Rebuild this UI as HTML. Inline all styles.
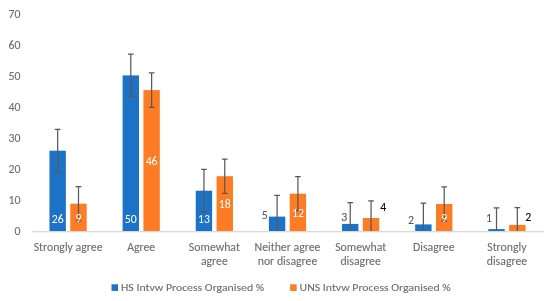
<!DOCTYPE html><html><head><meta charset="utf-8"><style>html,body{margin:0;padding:0;background:#fff;width:550px;height:301px;overflow:hidden}svg{display:block;filter:blur(0.3px)}text{font-family:Carlito, "Liberation Sans", sans-serif;font-size:11.8px;stroke:currentColor;stroke-width:0.1px}</style></head><body>
<svg width="550" height="301" viewBox="0 0 550 301">
<rect width="550" height="301" fill="#fff"/>
<text textLength="5.98" lengthAdjust="spacingAndGlyphs" x="20.5" y="235.30" text-anchor="end" fill="#6E6E6E" color="#6E6E6E">0</text>
<text textLength="11.97" lengthAdjust="spacingAndGlyphs" x="20.5" y="204.31" text-anchor="end" fill="#6E6E6E" color="#6E6E6E">10</text>
<text textLength="11.97" lengthAdjust="spacingAndGlyphs" x="20.5" y="173.33" text-anchor="end" fill="#6E6E6E" color="#6E6E6E">20</text>
<text textLength="11.97" lengthAdjust="spacingAndGlyphs" x="20.5" y="142.34" text-anchor="end" fill="#6E6E6E" color="#6E6E6E">30</text>
<text textLength="11.97" lengthAdjust="spacingAndGlyphs" x="20.5" y="111.36" text-anchor="end" fill="#6E6E6E" color="#6E6E6E">40</text>
<text textLength="11.97" lengthAdjust="spacingAndGlyphs" x="20.5" y="80.37" text-anchor="end" fill="#6E6E6E" color="#6E6E6E">50</text>
<text textLength="11.97" lengthAdjust="spacingAndGlyphs" x="20.5" y="49.38" text-anchor="end" fill="#6E6E6E" color="#6E6E6E">60</text>
<text textLength="11.97" lengthAdjust="spacingAndGlyphs" x="20.5" y="18.40" text-anchor="end" fill="#6E6E6E" color="#6E6E6E">70</text>
<rect x="32.0" y="231" width="512.0" height="1.3" fill="#D9D9D9"/>
<defs><clipPath id="pa"><rect x="31.5" y="0" width="512.0" height="231.0"/></clipPath></defs>
<rect x="49.46" y="150.7" width="16.4" height="80.30" fill="#1B72C7"/>
<rect x="70.29" y="203.7" width="16.4" height="27.30" fill="#FD7C24"/>
<rect x="122.60" y="75.4" width="16.4" height="155.60" fill="#1B72C7"/>
<rect x="143.43" y="90.1" width="16.4" height="140.90" fill="#FD7C24"/>
<rect x="195.74" y="190.7" width="16.4" height="40.30" fill="#1B72C7"/>
<rect x="216.57" y="176.2" width="16.4" height="54.80" fill="#FD7C24"/>
<rect x="268.89" y="216.6" width="16.4" height="14.40" fill="#1B72C7"/>
<rect x="289.71" y="193.7" width="16.4" height="37.30" fill="#FD7C24"/>
<rect x="342.03" y="223.9" width="16.4" height="7.10" fill="#1B72C7"/>
<rect x="362.86" y="218.0" width="16.4" height="13.00" fill="#FD7C24"/>
<rect x="415.17" y="224.4" width="16.4" height="6.60" fill="#1B72C7"/>
<rect x="436.00" y="204.0" width="16.4" height="27.00" fill="#FD7C24"/>
<rect x="488.31" y="229.1" width="16.4" height="1.90" fill="#1B72C7"/>
<rect x="509.14" y="224.9" width="16.4" height="6.10" fill="#FD7C24"/>
<g clip-path="url(#pa)" stroke="#595959" stroke-width="1.25" fill="none">
<path d="M57.66 129.45V171.95M54.81 129.45H60.51M54.81 171.95H60.51"/>
<path d="M78.49 186.50V220.90M75.64 186.50H81.34M75.64 220.90H81.34"/>
<path d="M130.80 54.15V96.65M127.95 54.15H133.65M127.95 96.65H133.65"/>
<path d="M151.63 72.90V107.30M148.78 72.90H154.48M148.78 107.30H154.48"/>
<path d="M203.94 169.45V211.95M201.09 169.45H206.79M201.09 211.95H206.79"/>
<path d="M224.77 159.00V193.40M221.92 159.00H227.62M221.92 193.40H227.62"/>
<path d="M277.09 195.35V237.85M274.24 195.35H279.94M274.24 237.85H279.94"/>
<path d="M297.91 176.50V210.90M295.06 176.50H300.76M295.06 210.90H300.76"/>
<path d="M350.23 202.65V245.15M347.38 202.65H353.08M347.38 245.15H353.08"/>
<path d="M371.06 200.80V235.20M368.21 200.80H373.91M368.21 235.20H373.91"/>
<path d="M423.37 203.15V245.65M420.52 203.15H426.22M420.52 245.65H426.22"/>
<path d="M444.20 186.80V221.20M441.35 186.80H447.05M441.35 221.20H447.05"/>
<path d="M496.51 207.85V250.35M493.66 207.85H499.36M493.66 250.35H499.36"/>
<path d="M517.34 207.70V242.10M514.49 207.70H520.19M514.49 242.10H520.19"/>
</g>
<text textLength="11.97" lengthAdjust="spacingAndGlyphs" x="57.66" y="222.60" text-anchor="middle" fill="#fff" color="#fff" style="stroke:none">26</text>
<text textLength="11.97" lengthAdjust="spacingAndGlyphs" x="130.80" y="222.60" text-anchor="middle" fill="#fff" color="#fff" style="stroke:none">50</text>
<text textLength="11.97" lengthAdjust="spacingAndGlyphs" x="203.94" y="222.60" text-anchor="middle" fill="#fff" color="#fff" style="stroke:none">13</text>
<text textLength="5.98" lengthAdjust="spacingAndGlyphs" x="78.49" y="222.40" text-anchor="middle" fill="#fff" color="#fff" style="stroke:none">9</text>
<text textLength="11.97" lengthAdjust="spacingAndGlyphs" x="151.63" y="165.20" text-anchor="middle" fill="#fff" color="#fff" style="stroke:none">46</text>
<text textLength="11.97" lengthAdjust="spacingAndGlyphs" x="224.77" y="208.10" text-anchor="middle" fill="#fff" color="#fff" style="stroke:none">18</text>
<text textLength="11.97" lengthAdjust="spacingAndGlyphs" x="297.91" y="217.10" text-anchor="middle" fill="#fff" color="#fff" style="stroke:none">12</text>
<text textLength="5.98" lengthAdjust="spacingAndGlyphs" x="444.20" y="222.10" text-anchor="middle" fill="#fff" color="#fff" style="stroke:none">9</text>
<text textLength="5.98" lengthAdjust="spacingAndGlyphs" x="264.70" y="218.60" text-anchor="middle" fill="#5A5A5A" color="#5A5A5A">5</text>
<text textLength="5.98" lengthAdjust="spacingAndGlyphs" x="344.30" y="220.80" text-anchor="middle" fill="#5A5A5A" color="#5A5A5A">3</text>
<text textLength="5.98" lengthAdjust="spacingAndGlyphs" x="411.00" y="223.90" text-anchor="middle" fill="#5A5A5A" color="#5A5A5A">2</text>
<text textLength="5.98" lengthAdjust="spacingAndGlyphs" x="489.00" y="221.50" text-anchor="middle" fill="#5A5A5A" color="#5A5A5A">1</text>
<text textLength="5.98" lengthAdjust="spacingAndGlyphs" x="383.30" y="211.00" text-anchor="middle" fill="#000" color="#000">4</text>
<text textLength="5.98" lengthAdjust="spacingAndGlyphs" x="528.30" y="220.60" text-anchor="middle" fill="#000" color="#000">2</text>
<text textLength="68.89" lengthAdjust="spacingAndGlyphs" x="68.07" y="250.70" text-anchor="middle" fill="#6E6E6E" color="#6E6E6E">Strongly agree</text>
<text textLength="28.08" lengthAdjust="spacingAndGlyphs" x="141.21" y="250.70" text-anchor="middle" fill="#6E6E6E" color="#6E6E6E">Agree</text>
<text textLength="51.02" lengthAdjust="spacingAndGlyphs" x="214.36" y="250.70" text-anchor="middle" fill="#6E6E6E" color="#6E6E6E">Somewhat</text>
<text textLength="26.91" lengthAdjust="spacingAndGlyphs" x="214.36" y="265.10" text-anchor="middle" fill="#6E6E6E" color="#6E6E6E">agree</text>
<text textLength="65.91" lengthAdjust="spacingAndGlyphs" x="287.50" y="250.70" text-anchor="middle" fill="#6E6E6E" color="#6E6E6E">Neither agree</text>
<text textLength="59.62" lengthAdjust="spacingAndGlyphs" x="287.50" y="265.10" text-anchor="middle" fill="#6E6E6E" color="#6E6E6E">nor disagree</text>
<text textLength="51.02" lengthAdjust="spacingAndGlyphs" x="360.64" y="250.70" text-anchor="middle" fill="#6E6E6E" color="#6E6E6E">Somewhat</text>
<text textLength="40.42" lengthAdjust="spacingAndGlyphs" x="360.64" y="265.10" text-anchor="middle" fill="#6E6E6E" color="#6E6E6E">disagree</text>
<text textLength="41.48" lengthAdjust="spacingAndGlyphs" x="433.79" y="250.70" text-anchor="middle" fill="#6E6E6E" color="#6E6E6E">Disagree</text>
<text textLength="39.33" lengthAdjust="spacingAndGlyphs" x="506.93" y="250.70" text-anchor="middle" fill="#6E6E6E" color="#6E6E6E">Strongly</text>
<text textLength="40.42" lengthAdjust="spacingAndGlyphs" x="506.93" y="265.10" text-anchor="middle" fill="#6E6E6E" color="#6E6E6E">disagree</text>
<rect x="111.5" y="284.3" width="6.6" height="6.6" fill="#1B72C7"/>
<text textLength="129.89" lengthAdjust="spacingAndGlyphs" transform="translate(121 290.75) scale(1.1028 1)" style="font-size:10.7px" fill="#6E6E6E" color="#6E6E6E">HS Intvw Process Organised %</text>
<rect x="290.1" y="284.3" width="6.6" height="6.6" fill="#FD7C24"/>
<text textLength="136.99" lengthAdjust="spacingAndGlyphs" transform="translate(299.6 290.75) scale(1.1028 1)" style="font-size:10.7px" fill="#6E6E6E" color="#6E6E6E">UNS Intvw Process Organised %</text>
</svg></body></html>
